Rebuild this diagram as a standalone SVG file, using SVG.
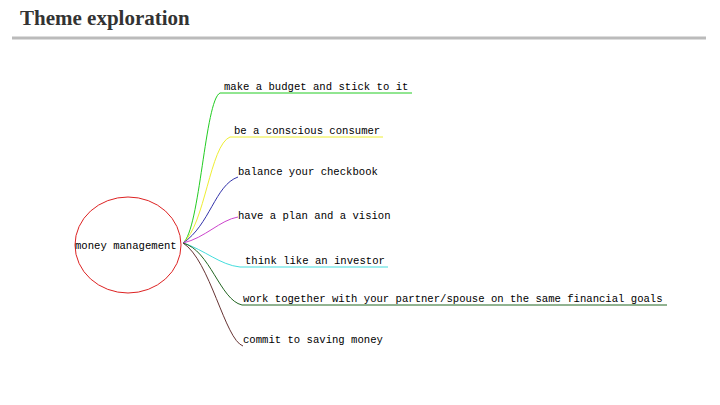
<svg xmlns="http://www.w3.org/2000/svg" width="720" height="405" viewBox="0 0 720 405">
<style>
.t{font-family:"Liberation Mono",monospace;font-size:10.6px;fill:#000}
.c{fill:none;stroke-width:1}
</style>
<rect width="720" height="405" fill="#fff"/>
<text x="20" y="25" font-family="Liberation Serif,serif" font-weight="bold" font-size="21" fill="#333">Theme exploration</text>
<line x1="12" y1="38" x2="706" y2="38" stroke="#bbb" stroke-width="3"/>
<g id="connectors">
<path class="c" stroke="#22cc22" d="M183,243 C200,230 205,100 220,93 L412,93"/>
<path class="c" stroke="#eeee33" d="M183,243 C205,225 210,145 230,137 L383,137"/>
<path class="c" stroke="#3333aa" d="M183,243 C210,225 215,185 238,177"/>
<path class="c" stroke="#cc44cc" d="M183,243 C205,238 220,220 238,217"/>
<path class="c" stroke="#44dddd" d="M183,243 C205,250 220,265 240,267 L388,267"/>
<path class="c" stroke="#226622" d="M183,243 C210,250 220,300 242,305 L667,305"/>
<path class="c" stroke="#663333" d="M183,243 C210,260 225,340 243,346"/>
</g>
<g id="center"><ellipse cx="128" cy="245" rx="53" ry="48" fill="none" stroke="#dd2222"/><text class="t" x="75" y="249">money management</text></g>
<g id="n1"><text class="t" x="224" y="90">make a budget and stick to it</text></g>
<g id="n2"><text class="t" x="234" y="134">be a conscious consumer</text></g>
<g id="n3"><text class="t" x="238" y="175">balance your checkbook</text></g>
<g id="n4"><text class="t" x="238" y="219">have a plan and a vision</text></g>
<g id="n5"><text class="t" x="245" y="264">think like an investor</text></g>
<g id="n6"><text class="t" x="243" y="302">work together with your partner/spouse on the same financial goals</text></g>
<g id="n7"><text class="t" x="243" y="343">commit to saving money</text></g>
</svg>
